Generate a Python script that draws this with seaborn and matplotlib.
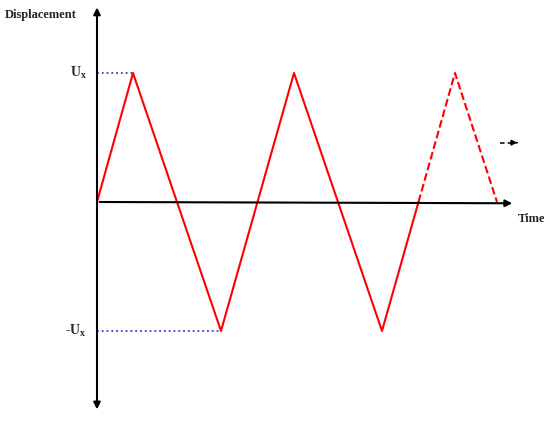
import matplotlib
matplotlib.use("Agg")
import matplotlib.pyplot as plt
import seaborn as sns
import pandas as pd

sns.set_style("white")
plt.rcParams['font.family'] = ['Liberation Serif', 'DejaVu Serif']

solid_t = [0, 36, 124, 197, 285, 321.5]
solid_d = [0, 1, -1, 1, -1, 0]
dash_t = [321.5, 358, 400]
dash_d = [0, 1, 0]

fig = plt.figure(figsize=(5.5, 4.21), dpi=100)
ax = fig.add_axes([0, 0, 1, 1])
ax.set_xlim(-97, 453)
ax.set_ylim(-1.698, 1.566)
ax.axis("off")

ax.annotate("", xy=(0, 1.53), xytext=(0, -1.63),
            arrowprops=dict(arrowstyle="<|-|>", color="black", lw=1.5, mutation_scale=10))
ax.annotate("", xy=(418, -0.01), xytext=(0, 0),
            arrowprops=dict(arrowstyle="-|>", color="black", lw=1.5, mutation_scale=10))

ax.plot([0, 36], [1, 1], ls=":", color="#5a2bd0", lw=1.3)
ax.plot([0, 124], [-1, -1], ls=":", color="#5a2bd0", lw=1.3)

sns.lineplot(x=solid_t, y=solid_d, ax=ax, color="red", lw=1.5, sort=False)
sns.lineplot(x=dash_t, y=dash_d, ax=ax, color="red", lw=1.5, sort=False, linestyle="--")

ax.plot([403, 418], [0.46, 0.46], ls=(0, (3, 2)), color="black", lw=1.1)
ax.annotate("", xy=(423, 0.46), xytext=(417, 0.46),
            arrowprops=dict(arrowstyle="-|>", color="black", lw=1.1, mutation_scale=8))

ax.text(-92, 1.45, "Displacement", fontsize=9, fontweight="bold", va="center")
ax.text(-10, 1.0, r"U$_\mathregular{x}$", fontsize=10, fontweight="bold", ha="right", va="center")
ax.text(-10, -1.0, r"-U$_\mathregular{x}$", fontsize=10, fontweight="bold", ha="right", va="center")
ax.text(421, -0.13, "Time", fontsize=9, fontweight="bold", va="center")

fig.savefig("out.png", dpi=100)
